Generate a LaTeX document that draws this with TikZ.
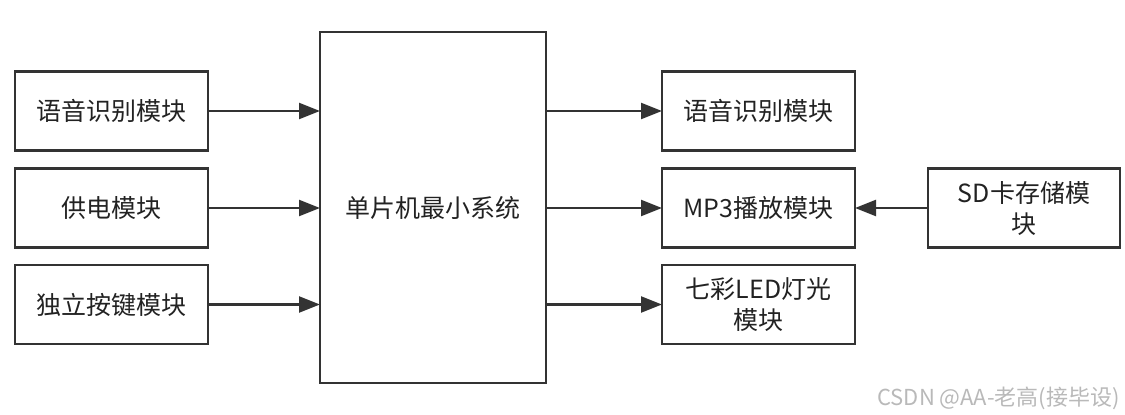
\documentclass[tikz,border=0pt]{standalone}
\usepackage{fontspec}
\setmainfont{Noto Sans CJK SC}
\usetikzlibrary{arrows.meta}
\definecolor{linegray}{HTML}{333333}
\definecolor{textgray}{HTML}{222222}
\begin{document}
\begin{tikzpicture}[x=1pt, y=-1pt, line width=2.4pt,
    modbox/.style={draw=linegray, minimum width=193pt, minimum height=79pt, inner sep=0pt, outer sep=0pt,
      align=center, text=textgray, font=\fontsize{25}{31}\selectfont},
    sig/.style={draw=linegray, -{Triangle[length=21pt, width=16pt]}}]
    \useasboundingbox (0,0) rectangle (1125,415);
    % 单片机最小系统
    \node[modbox, minimum width=226pt, minimum height=351pt] (mcu) at (433,207.5) {单片机最小系统};
    
    % 输入模块
    \node[modbox] (voicein) at (111.5,111) {语音识别模块};
    \node[modbox] (power) at (111.5,208) {供电模块};
    \node[modbox] (keys) at (111.5,304.5) {独立按键模块};
    
    % 输出模块
    \node[modbox] (voiceout) at (758.5,111) {语音识别模块};
    \node[modbox] (mp3) at (758.5,208) {MP3播放模块};
    \node[modbox] (led) at (758.5,304.5) {七彩LED灯光\\模块};
    \node[modbox, minimum width=192pt] (sdcard) at (1024,208) {SD卡存储模\\块};
    
    % 连线
    \foreach \m in {voicein, power, keys} {
        \draw[sig] (\m.east) -- (\m.east -| mcu.west);
    }
    \foreach \m in {voiceout, mp3, led} {
        \draw[sig] (\m.west -| mcu.east) -- (\m.west);
    }
    \draw[sig] (sdcard.west) -- (mp3.east);
    
    % 水印
    \node[anchor=east, inner sep=0pt, text=gray!55, font=\fontsize{22}{26}\selectfont] (mark) at (1121,398) {CSDN @AA-老高(接毕设)};
\end{tikzpicture}
\end{document}
